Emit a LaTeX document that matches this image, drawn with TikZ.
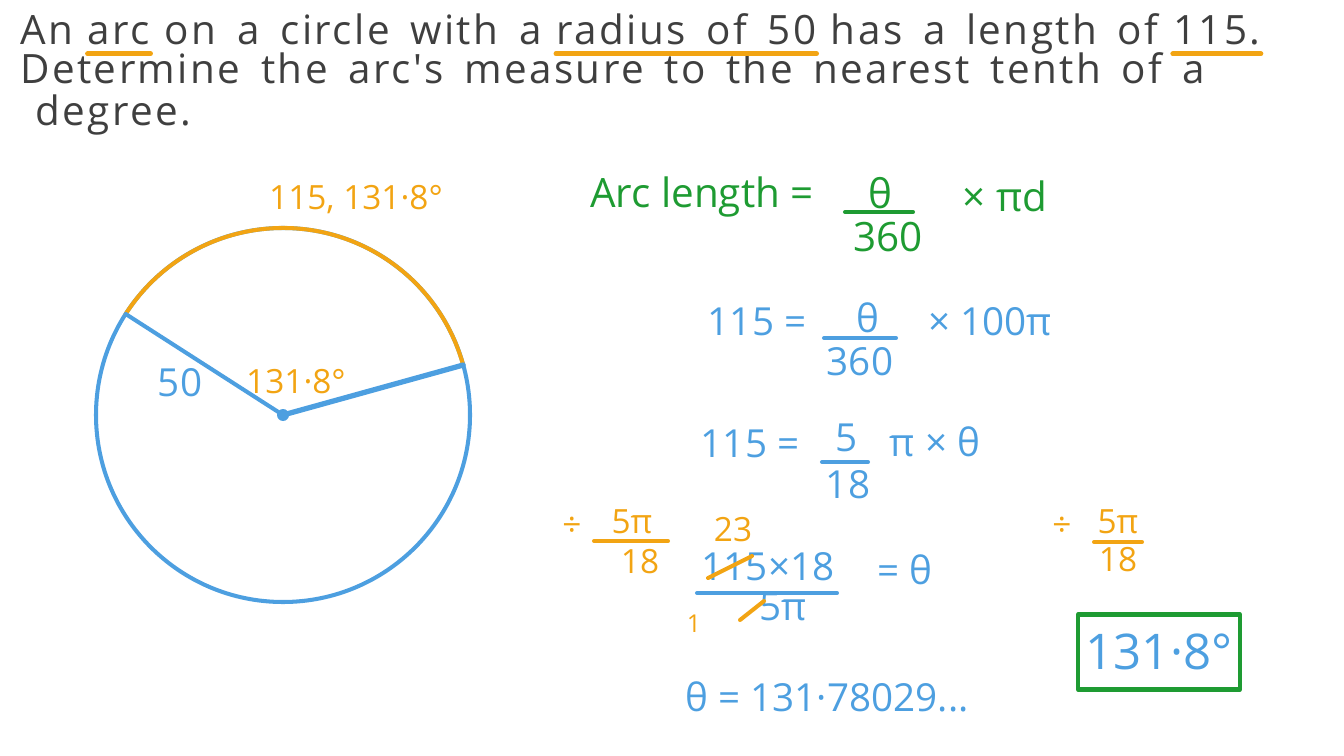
\documentclass[tikz,border=0pt]{standalone}
\usepackage{fontspec}
\setmainfont{Open Sans}
\newfontfamily\qfont{Open Sans}[LetterSpace=6,WordSpace=1.6]
\definecolor{inkgray}{HTML}{3F3F3F}
\definecolor{inkblue}{HTML}{4D9FE0}
\definecolor{inkorange}{HTML}{F2A413}
\definecolor{inkgreen}{HTML}{1E9B32}
\tikzset{
  qtext/.style={anchor=base west,inner sep=0pt,text=inkgray,font=\qfont\fontsize{23}{27}\selectfont},
  bluet/.style={text=inkblue,font=\fontsize{22}{26}\selectfont,inner sep=1pt},
  oranget/.style={text=inkorange,font=\fontsize{19}{23}\selectfont,inner sep=1pt},
  greent/.style={text=inkgreen,font=\fontsize{23}{27}\selectfont,inner sep=1pt},
  pen/.style={line width=2.3pt,line cap=round,line join=round},
  uline/.style={pen,draw=inkorange,line width=2.8pt},
}
\begin{document}
\begin{tikzpicture}[x=0.02cm,y=0.02cm]
  \useasboundingbox (0,0) rectangle (1344,-756);
  % question
  \def\gap{8pt}
  \node[qtext] (qan) at (20,-45) {An};
  \node[qtext] (qarc) at ([xshift=\gap]qan.base east) {arc};
  \node[qtext] (qcirc) at ([xshift=\gap]qarc.base east) {on a circle with a};
  \node[qtext] (qrad) at ([xshift=\gap]qcirc.base east) {radius of 50};
  \node[qtext] (qlen) at ([xshift=\gap]qrad.base east) {has a length of};
  \node[qtext] (qval) at ([xshift=\gap]qlen.base east) {115.};
  \node[qtext] (qline2) at (20,-84) {Determine the arc's measure to the nearest tenth of a};
  \node[qtext] (qline3) at (35,-126) {degree.};
  \foreach \w in {qarc,qrad,qval}
    \draw[uline] ([yshift=-5pt]\w.base west) -- ([yshift=-5pt]\w.base east);
  % circle and sector
  \coordinate (cen) at (283,-415);
  \path (cen) ++(15.5:187) coordinate (pa);
  \path (cen) ++(147.3:187) coordinate (pb);
  \draw[pen,inkblue] (cen) circle (187);
  \draw[pen,inkorange] (pa) arc[start angle=15.5,end angle=147.3,radius=187];
  \draw[pen,inkblue] (pb) -- (cen);
  \draw[pen,inkblue,line width=3pt] (cen) -- (pa);
  \fill[inkblue] (cen) circle (6);
  \node[oranget] (arclab) at (356,-200) {115, 131·8°};
  \node[bluet] (radlab) at (180,-383) {50};
  \node[oranget] (anglab) at (296,-382) {131·8°};
  % formula
  \node[greent,anchor=base] (flen) at (702,-208) {Arc length =};
  \node[greent] (fnum) at (880,-193) {θ};
  \node[greent] (fden) at (888,-237) {360};
  \node[greent] (fpid) at (1005,-196) {× πd};
  \draw[pen,inkgreen] (845,-212) -- (913,-212);
  % step 1
  \node[bluet] (sa) at (757,-322) {115 =};
  \node[bluet] (sanum) at (868,-318) {θ};
  \node[bluet] (saden) at (860,-362) {360};
  \node[bluet] (sapi) at (990,-322) {× 100π};
  \draw[pen,inkblue] (824,-338) -- (896,-338);
  % step 2
  \node[bluet] (sb) at (750,-444) {115 =};
  \node[bluet] (sbnum) at (847,-438) {5};
  \node[bluet] (sbden) at (848,-485) {18};
  \node[bluet] (sbpi) at (935,-442) {π × θ};
  \draw[pen,inkblue] (822,-462) -- (868,-462);
  % divide both sides
  \foreach \x/\b in {572/0,1062/1}{
    \node[oranget] (dv\b) at (\x,-527) {÷};
  }
  \node[oranget] (dvnum0) at (632,-522) {5π};
  \node[oranget] (dvden0) at (640,-562) {18};
  \draw[pen,inkorange] (594,-541) -- (668,-541);
  \node[oranget] (dvnum1) at (1118,-522) {5π};
  \node[oranget] (dvden1) at (1118,-560) {18};
  \draw[pen,inkorange] (1094,-542) -- (1142,-542);
  % step 3
  \node[oranget] (cnc) at (733,-530) {23};
  \node[bluet] (scnum) at (768,-567) {115×18};
  \node[bluet] (scden) at (783,-607) {5π};
  \node[oranget,font=\fontsize{14}{16}\selectfont] (cone) at (694,-624) {1};
  \node[bluet] (sceq) at (905,-570) {= θ};
  \draw[pen,inkblue] (697,-593) -- (837,-593);
  \draw[pen,inkorange] (708,-578) -- (752,-556);
  \draw[pen,inkorange] (740,-620) -- (764,-601);
  % result
  \node[bluet] (res) at (827,-697) {θ = 131·78029...};
  \node[pen,draw=inkgreen,bluet,font=\fontsize{28}{32}\selectfont,
        minimum width=3.24cm,minimum height=1.5cm] (ans) at (1159,-652) {131·8°};
\end{tikzpicture}
\end{document}
